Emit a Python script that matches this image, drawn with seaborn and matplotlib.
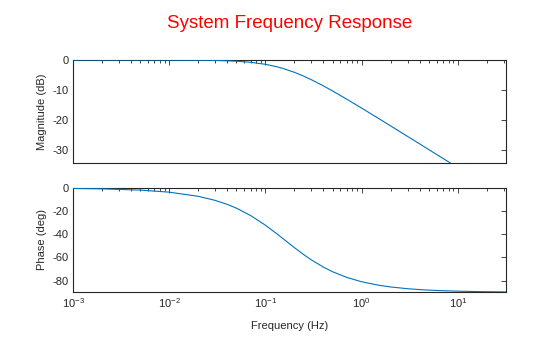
import numpy as np
import pandas as pd
import matplotlib
matplotlib.use("Agg")
import matplotlib.pyplot as plt
import seaborn as sns
from matplotlib.ticker import LogLocator, FixedLocator, NullFormatter

# Values
freq_hz = [0.001, 0.002, 0.005, 0.01, 0.02, 0.03, 0.04, 0.05, 0.07, 0.1, 0.13, 0.15,
           0.2, 0.25, 0.3, 0.4, 0.5, 0.7, 1.0, 1.5, 2.0, 3.0, 4.0, 5.0, 7.0, 10.0,
           15.0, 20.0, 31.6]
magnitude_db = [-0.0002, -0.0007, -0.004, -0.017, -0.068, -0.15, -0.27, -0.41, -0.77,
                -1.44, -2.22, -2.75, -4.11, -5.40, -6.58, -8.64, -10.36, -13.09, -16.07,
                -19.53, -22.01, -25.52, -28.01, -29.95, -32.87, -35.96, -39.5, -41.98,
                -45.96]
phase_deg = [-0.36, -0.72, -1.80, -3.60, -7.16, -10.67, -14.11, -17.44, -23.74, -32.14,
             -39.24, -43.3, -51.5, -57.52, -62.05, -68.30, -72.34, -77.19, -80.96,
             -83.94, -85.45, -86.96, -87.72, -88.18, -88.70, -89.09, -89.39, -89.54,
             -89.71]
mag_ticks = [0, -10, -20, -30]
phase_ticks = [0, -20, -40, -60, -80]

df = pd.DataFrame({"freq": freq_hz, "mag": magnitude_db, "phase": phase_deg})

sns.set_style("white")
plt.rcParams["font.family"] = ["Liberation Sans", "DejaVu Sans"]
plt.rcParams["axes.unicode_minus"] = False

W, H = 560, 337
fig = plt.figure(figsize=(W / 100, H / 100), dpi=100)
ax1 = fig.add_axes([73 / W, 1 - 163 / H, (506 - 73) / W, (163 - 60) / H])
ax2 = fig.add_axes([73 / W, 1 - 292 / H, (506 - 73) / W, (292 - 188) / H])

line_color = "#0072BD"
sns.lineplot(data=df, x="freq", y="mag", ax=ax1, color=line_color, linewidth=0.8,
             estimator=None, sort=True, zorder=4)
sns.lineplot(data=df, x="freq", y="phase", ax=ax2, color=line_color, linewidth=0.8,
             estimator=None, sort=True, zorder=4)

for ax in (ax1, ax2):
    ax.set_xscale("log")
    ax.set_xlim(1e-3, 10 ** 1.5)
    ax.xaxis.set_major_locator(LogLocator(base=10, numticks=10))
    ax.xaxis.set_minor_locator(LogLocator(base=10, subs=np.arange(2, 10), numticks=20))
    ax.xaxis.set_minor_formatter(NullFormatter())
    ax.tick_params(which="both", direction="in", top=True, right=True,
                   colors="#262626", labelcolor="#262626", labelsize=8, width=0.6)
    ax.tick_params(which="major", length=3.5, pad=3)
    ax.tick_params(which="minor", length=2)
    for s in ax.spines.values():
        s.set_visible(True)
        s.set_color("#262626")
        s.set_linewidth(0.8)
        s.set_zorder(3)

ax1.set_ylim(-34.4, 0)
ax1.yaxis.set_major_locator(FixedLocator(mag_ticks))
ax1.set_yticklabels([str(t) for t in mag_ticks])
ax1.tick_params(labelbottom=False)
ax1.set_xlabel("")
ax1.set_ylabel("Magnitude (dB)", fontsize=8, color="#262626", labelpad=4)

ax2.set_ylim(-89.8, 0)
ax2.yaxis.set_major_locator(FixedLocator(phase_ticks))
ax2.set_yticklabels([str(t) for t in phase_ticks])
ax2.set_xlabel("Frequency (Hz)", fontsize=8, color="#262626", labelpad=8)
ax2.set_ylabel("Phase (deg)", fontsize=8, color="#262626", labelpad=4)

fig.text((73 + 506) / 2 / W, 1 - 28 / H, "System Frequency Response", color="red",
         fontsize=13.5, ha="center", va="baseline")

fig.savefig("out.png", dpi=100)
